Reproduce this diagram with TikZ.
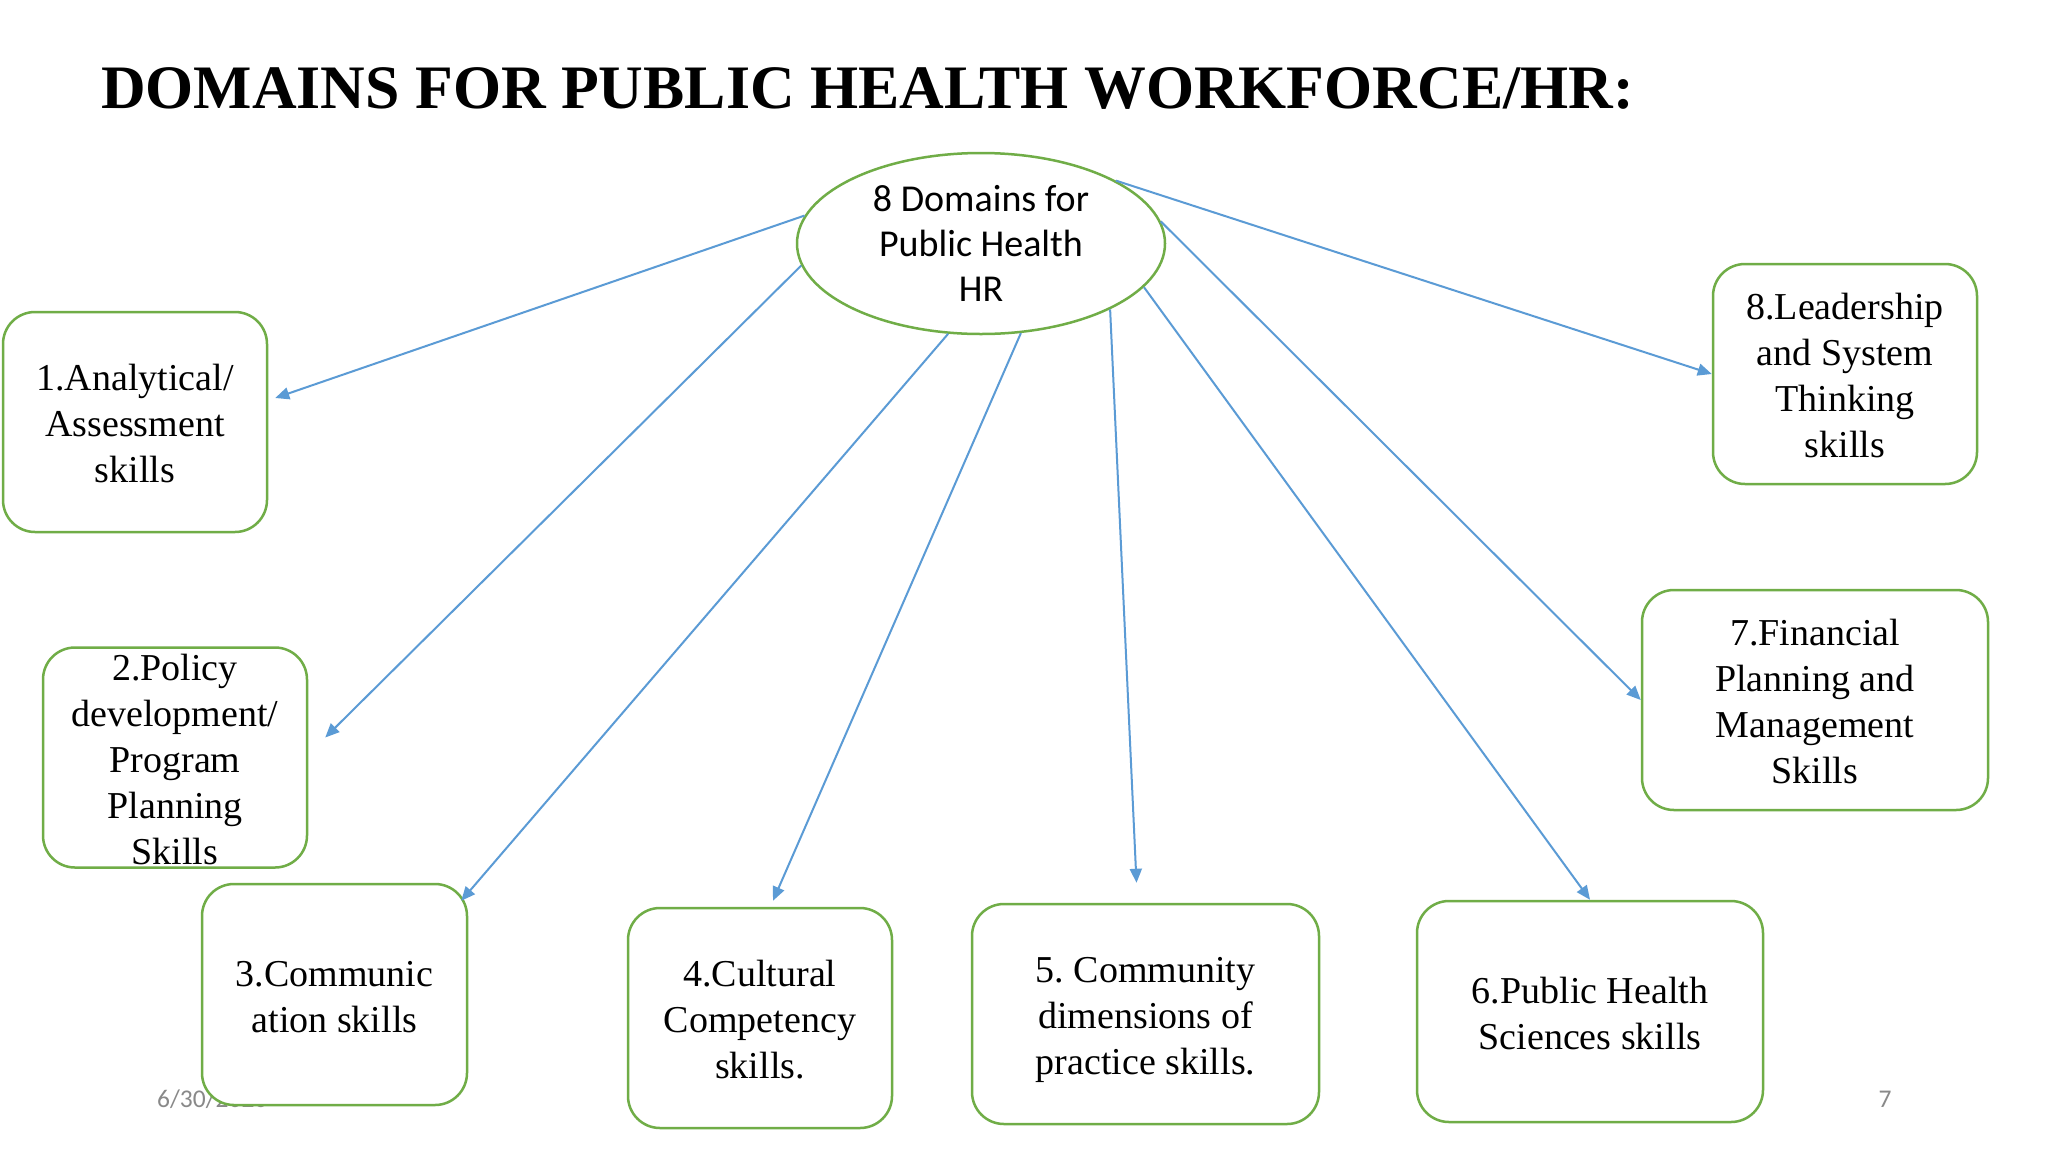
\documentclass[tikz,border=0pt]{standalone}
\usepackage{fontspec}
\setmainfont{Liberation Serif}
\newfontfamily\calib{Carlito}
\usetikzlibrary{arrows.meta,calc,shapes.geometric}
\definecolor{boxgreen}{HTML}{70AD47}
\definecolor{arrblue}{HTML}{5B9BD5}
\definecolor{dategray}{HTML}{898989}
\frenchspacing
\newcommand\toprule{\rule{0pt}{29.5pt}}
\tikzset{
 domainbox/.style={draw=boxgreen, line width=2.5pt, rounded corners=32pt, fill=white, align=center, inner sep=0pt, text depth=0pt, font=\fontsize{38}{46}\selectfont},
 hubnode/.style={ellipse, draw=boxgreen, line width=2.5pt, minimum width=368pt, minimum height=181pt, inner sep=0pt, align=center, font=\calib\fontsize{38}{45}\selectfont},
 link/.style={draw=arrblue, line width=2pt, -{Triangle[length=14pt,width=12pt]}},
 footnote/.style={text=dategray, inner sep=0pt, font=\calib\fontsize{25.5}{28}\selectfont},
}
\begin{document}
\begin{tikzpicture}[x=1pt,y=-1pt]
\useasboundingbox[fill=white] (0,0) rectangle (2048,1152);
\node[anchor=base west, font=\bfseries\fontsize{61.8}{70}\selectfont, inner sep=0pt] (title) at (101,108) {DOMAINS FOR PUBLIC HEALTH WORKFORCE/HR:};

\node[footnote, anchor=base west] (date) at (157,1107) {6/30/2020};
\node[footnote, anchor=base] (page) at (1885,1107) {7};

\node[hubnode] (hub) at (981,243.5) {8 Domains for\\Public Health\\HR};

\node[domainbox, minimum width=264pt, minimum height=220pt] (b1) at (135,422) {\toprule 1.Analytical/\\Assessment\\skills};
\node[domainbox, minimum width=264pt, minimum height=220pt] (b2) at (175,757.5) {\toprule 2.Policy\\development/\\Program\\Planning\\Skills};
\node[domainbox, minimum width=265pt, minimum height=221pt] (b3) at (334.5,994.5) {\toprule 3.Communic\\ation skills};
\node[domainbox, minimum width=264pt, minimum height=220pt] (b4) at (760,1018) {\toprule 4.Cultural\\Competency\\skills.};
\node[domainbox, minimum width=347pt, minimum height=220pt] (b5) at (1145.5,1014) {\toprule 5. Community\\dimensions of\\practice skills.};
\node[domainbox, minimum width=346pt, minimum height=221pt] (b6) at (1590,1011.5) {\toprule 6.Public Health\\Sciences skills};
\node[domainbox, minimum width=346pt, minimum height=220pt] (b7) at (1815,700) {\toprule 7.Financial\\Planning and\\Management\\Skills};
\node[domainbox, minimum width=264pt, minimum height=220pt] (b8) at (1845,374) {\toprule 8.Leadership\\and System\\Thinking\\skills};

\draw[link] (hub.171) -- ($(b1.east)+(7,-24)$);
\draw[link] (hub.187) -- ($(b2.east)+(17,-20)$);
\draw[link] (hub.250) -- ($(b3.north east)+(-7,18)$);
\draw[link] (hub.294) -- ($(b4.north)+(13,-6)$);
\draw[link] (hub.333) -- ($(b5.north)+(-9,-20)$);
\draw[link] (hub.345) -- (b6.north);
\draw[link] (hub.7) -- (b7.west);
\draw[link] (hub.25) -- (b8.west);
\end{tikzpicture}
\end{document}
